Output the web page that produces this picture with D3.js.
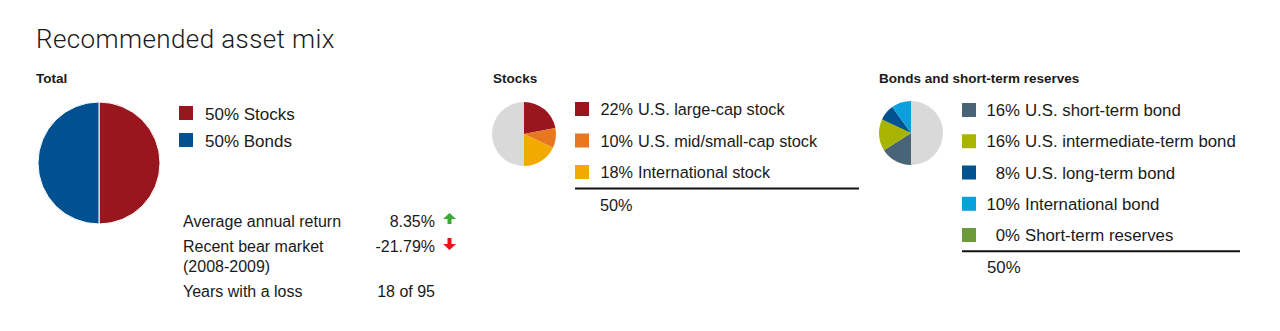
<!DOCTYPE html>
<html>
<head>
<meta charset="utf-8">
<script src="https://cdn.jsdelivr.net/npm/d3@7"></script>
<style>
  html, body { margin: 0; padding: 0; background: #fff; }
  svg { display: block; }
  text { font-family: "Liberation Sans", Arial, sans-serif; fill: #1a1a1a; }
</style>
</head>
<body>
<svg id="chart" width="1280" height="331"></svg>
<script>
// ---- data ----
const title = "Recommended asset mix";
const panelTitles = ["Total", "Stocks", "Bonds and short-term reserves"];

const totalLabels = ["Stocks", "Bonds"];
const totalValues = [50, 50];
const totalColors = ["#9a161f", "#01508f"];

const stockLabels = ["U.S. large-cap stock", "U.S. mid/small-cap stock", "International stock"];
const stockValues = [22, 10, 18];
const stockColors = ["#9a161f", "#e87722", "#f2a900"];
const stockTotal = 50;

const bondLabels = ["U.S. short-term bond", "U.S. intermediate-term bond", "U.S. long-term bond", "International bond", "Short-term reserves"];
const bondValues = [16, 16, 8, 10, 0];
const bondColors = ["#4a6477", "#a8b400", "#00538e", "#0aa0dc", "#6c9a3a"];
const bondTotal = 50;

const restColor = "#d9d9d9";

const statLabels = [["Average annual return"], ["Recent bear market", "(2008-2009)"], ["Years with a loss"]];
const statValues = ["8.35%", "-21.79%", "18 of 95"];
const statArrows = ["up", "down", null];

// ---- drawing ----
const svg = d3.select("#chart");
const pie = d3.pie().sort(null).value(d => d.v);

svg.append("text").attr("x", 36).attr("y", 48)
  .style("font-family", "Roboto, 'Liberation Sans', sans-serif")
  .style("font-weight", 300).style("font-size", "26px").style("letter-spacing", "0.4px").text(title);

const headX = [36, 493, 879];
panelTitles.forEach((t, i) => {
  svg.append("text").attr("x", headX[i]).attr("y", 83)
    .style("font-size", "13.5px").style("font-weight", "bold").text(t);
});

function drawPie(cx, cy, r, data, strokeColor) {
  const arc = d3.arc().innerRadius(0).outerRadius(r);
  const g = svg.append("g").attr("transform", `translate(${cx},${cy})`);
  g.selectAll("path").data(pie(data)).join("path")
    .attr("d", arc).attr("fill", d => d.data.c)
    .attr("stroke", strokeColor || "none").attr("stroke-width", strokeColor ? 1 : 0);
}

// Total pie
drawPie(99, 163, 61, totalValues.map((v, i) => ({v, c: totalColors[i]})), "#ffffff");

// Total legend
totalLabels.forEach((l, i) => {
  const y = 106 + i * 27;
  svg.append("rect").attr("x", 179).attr("y", y).attr("width", 14).attr("height", 14).attr("fill", totalColors[i]);
  svg.append("text").attr("x", 205).attr("y", y + 14).style("font-size", "17px").text(`${totalValues[i]}% ${l}`);
});

// Stats
const statY = [227, 252, 297];
statLabels.forEach((lines, i) => {
  lines.forEach((ln, j) => {
    svg.append("text").attr("x", 183).attr("y", statY[i] + j * 20).style("font-size", "16px").text(ln);
  });
  svg.append("text").attr("x", 435).attr("y", statY[i]).attr("text-anchor", "end")
    .style("font-size", "16px").text(statValues[i]);
  if (statArrows[i]) {
    const up = statArrows[i] === "up";
    const col = up ? "#3aaa35" : "#e8141b";
    const ay = statY[i] - 14;
    const p = d3.path();
    if (up) {
      p.moveTo(449.5, ay); p.lineTo(456, ay + 6); p.lineTo(451.5, ay + 6); p.lineTo(451.5, ay + 11);
      p.lineTo(447.5, ay + 11); p.lineTo(447.5, ay + 6); p.lineTo(443, ay + 6); p.closePath();
    } else {
      p.moveTo(447.5, ay); p.lineTo(451.5, ay); p.lineTo(451.5, ay + 6); p.lineTo(456, ay + 6);
      p.lineTo(449.5, ay + 12); p.lineTo(443, ay + 6); p.lineTo(447.5, ay + 6); p.closePath();
    }
    svg.append("path").attr("d", p.toString()).attr("fill", col);
  }
});

// Stocks pie
drawPie(524, 134, 32,
  stockValues.map((v, i) => ({v, c: stockColors[i]})).concat([{v: 100 - d3.sum(stockValues), c: restColor}]));

function drawLegend(x0, y0, step, labels, values, colors, lineEnd, total, fs) {
  labels.forEach((l, i) => {
    const y = y0 + i * step;
    svg.append("rect").attr("x", x0).attr("y", y).attr("width", 14).attr("height", 14).attr("fill", colors[i]);
    svg.append("text").attr("x", x0 + 58).attr("y", y + 13).attr("text-anchor", "end")
      .style("font-size", fs + "px").text(`${values[i]}%`);
    svg.append("text").attr("x", x0 + 63).attr("y", y + 13)
      .style("font-size", fs + "px").text(l);
  });
  const ly = y0 + labels.length * step - 8;
  svg.append("line").attr("x1", x0).attr("x2", lineEnd).attr("y1", ly).attr("y2", ly)
    .attr("stroke", "#111").attr("stroke-width", 2);
  svg.append("text").attr("x", x0 + 25).attr("y", ly + 22).style("font-size", fs + "px").text(`${total}%`);
}

drawLegend(575, 102, 31.5, stockLabels, stockValues, stockColors, 859, stockTotal, 16.3);

// Bonds pie
drawPie(911, 133, 32,
  [{v: 100 - d3.sum(bondValues), c: restColor}].concat(bondValues.map((v, i) => ({v, c: bondColors[i]}))));

drawLegend(962, 103, 31.25, bondLabels, bondValues, bondColors, 1240, bondTotal, 16.8);
</script>
</body>
</html>
